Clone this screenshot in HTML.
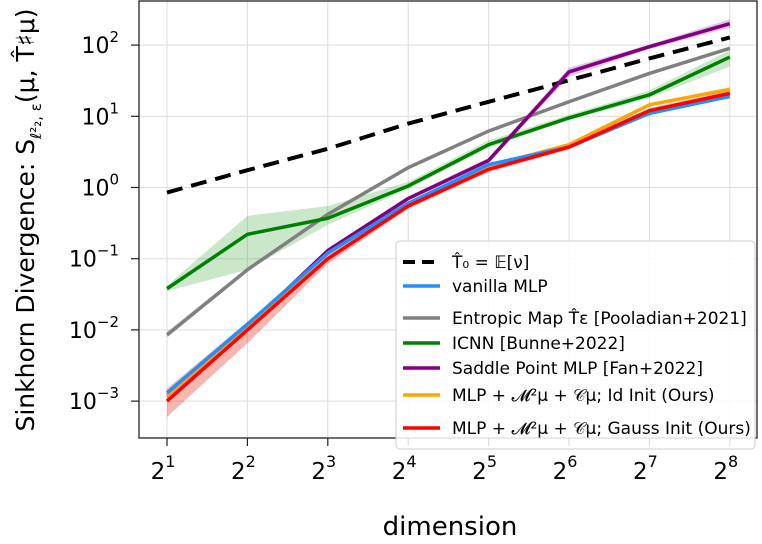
<!DOCTYPE html>
<html><head><meta charset="utf-8"><style>
body{margin:0;background:#fff;width:762px;height:540px;overflow:hidden;font-family:"DejaVu Sans","Liberation Sans",sans-serif}
svg text{font-family:"DejaVu Sans","Liberation Sans",sans-serif}
</style></head><body>
<svg id="chart" width="762" height="540" xmlns="http://www.w3.org/2000/svg">
<g id="grid"></g>
<g id="bands"></g>
<g id="lines"></g>
<rect x="139" y="1" width="618" height="437" fill="none" stroke="#222" stroke-width="1.3"/>
<g id="axes"></g>
<text x="450" y="535" font-size="26" text-anchor="middle">dimension</text>
<text transform="translate(34,220) rotate(-90)" font-size="25" text-anchor="middle">Sinkhorn Divergence: S<tspan font-size="15" dy="7">ℓ²₂, ε</tspan><tspan dy="-7">(μ, T̂♯μ)</tspan></text>
<g id="legend"></g>
</svg>
<script>
const exponents=[1,2,3,4,5,6,7,8];
const yTickExp=[-3,-2,-1,0,1,2];
const seriesNames=["baseline","vanilla","entropic","icnn","saddle","idinit","gauss"];
const baseline=[0.85,1.75,3.5,7.9,16,32,65,128];
const vanilla=[0.0013,0.012,0.12,0.6,2.1,3.7,11,19];
const entropic=[0.0085,0.07,0.42,1.9,6.2,16,40,90];
const icnn=[0.038,0.22,0.37,1.05,4,9.5,20,68];
const saddle=[0.0012,0.011,0.13,0.7,2.4,42,95,200];
const idinit=[0.0012,0.011,0.12,0.6,2.0,4.0,14.5,24];
const gauss=[0.001,0.010,0.10,0.55,1.8,3.7,12,21];
const icnnLo=[0.035,0.07,0.3,0.95,3.6,8.8,18,50];
const icnnHi=[0.042,0.4,0.55,1.2,4.6,10.5,23,85];
const gaussLo=[0.0006,0.0065,0.085,0.5,1.65,3.4,11,19];
const gaussHi=[0.0015,0.013,0.115,0.6,1.95,4.0,13,23];
const entLo=[0.0078,0.065,0.4,1.8,5.9,15.5,38,85];
const entHi=[0.0095,0.075,0.45,2.0,6.5,16.5,42,95];
const sadLo=[0.0011,0.010,0.12,0.66,2.2,36,88,175];
const sadHi=[0.0014,0.012,0.14,0.75,2.6,48,102,230];
const legendLabels=["T̂₀ = 𝔼[ν]","vanilla MLP","Entropic Map T̂ε [Pooladian+2021]","ICNN [Bunne+2022]","Saddle Point MLP [Fan+2022]","MLP + 𝓜²μ + 𝒞μ; Id Init (Ours)","MLP + 𝓜²μ + 𝒞μ; Gauss Init (Ours)"];
const NS="http://www.w3.org/2000/svg";
function X(e){return 167+(e-1)*80.4;}
function Y(v){return 187.5-Math.log10(v)*71.2;}
function mk(t,a,p){const el=document.createElementNS(NS,t);for(const k in a)el.setAttribute(k,a[k]);p.appendChild(el);return el;}
const grid=document.getElementById('grid'),axes=document.getElementById('axes');
exponents.forEach(e=>{
 const l=mk('line',{x1:X(e),x2:X(e),y1:1,y2:438,stroke:'#ddd','stroke-width':1},grid);
 
 
 const t=mk('line',{x1:X(e),x2:X(e),y1:438,y2:446,stroke:'#222','stroke-width':1.2},axes);
 
 
 const tx=mk('text',{x:X(e)-4,y:479,'font-size':23,'text-anchor':'middle'},axes);
 
 
 tx.innerHTML='2<tspan font-size="16" dy="-12">'+e+'</tspan>';
});
yTickExp.forEach(e=>{
 const y=Y(Math.pow(10,e));
 const l=mk('line',{x1:139,x2:757,y1:y,y2:y,stroke:'#ddd','stroke-width':1},grid);
 
 
 const t=mk('line',{x1:131,x2:139,y1:y,y2:y,stroke:'#222','stroke-width':1.2},axes);
 
 
 const tx=mk('text',{x:119,y:y+8,'font-size':22,'text-anchor':'end'},axes);
 
 
 tx.innerHTML='10<tspan font-size="15" dy="-11">'+(e<0?'−'+(-e):e)+'</tspan>';
});
function band(lo,hi,color,op,name){
 let d='M'+exponents.map((e,i)=>X(e)+','+Y(hi[i])).join('L')+'L'+exponents.slice().reverse().map((e,j)=>{const i=exponents.length-1-j;return X(e)+','+Y(lo[i]);}).join('L')+'Z';
 const p=mk('path',{d:d,fill:color,'fill-opacity':op},document.getElementById('bands'));
 
 
}
band(icnnLo,icnnHi,'#2ca02c',0.25,'icnn-band');
band(gaussLo,gaussHi,'#e8321e',0.35,'gauss-band');
band(entLo,entHi,'#888',0.3,'entropic-band');
band(sadLo,sadHi,'#9b3c9b',0.3,'saddle-band');
const styles=[[baseline,'#000',4,'16,9','baseline-line'],[entropic,'#808080',3.5,null,'entropic-line'],[icnn,'#008000',3.5,null,'icnn-line'],[saddle,'#800080',3.5,null,'saddle-line'],[idinit,'#ffa500',3.5,null,'idinit-line'],[vanilla,'#1e90ff',3.5,null,'vanilla-line'],[gauss,'#ff0000',3.5,null,'gauss-line']];
const lines=document.getElementById('lines');
styles.forEach(s=>{
 const a={points:exponents.map((e,i)=>X(e)+','+Y(s[0][i])).join(' '),fill:'none',stroke:s[1],'stroke-width':s[2],'stroke-linejoin':'round'};
 if(s[3])a['stroke-dasharray']=s[3];
 const p=mk('polyline',a,lines);
 
 
});
const lg=document.getElementById('legend');
const bx=mk('rect',{x:396,y:241,width:359,height:208,rx:4,fill:'#fff','fill-opacity':0.85,stroke:'#ccc'},lg);


const legColors=['#000','#1e90ff','#808080','#008000','#800080','#ffa500','#ff0000'];
const legY=[262,286,318,343,368,395,428];
legendLabels.forEach((t,i)=>{
 const a={x1:403,x2:440,y1:legY[i],y2:legY[i],stroke:legColors[i],'stroke-width':i==0?4:3.5};
 if(i==0)a['stroke-dasharray']='12,7';
 const l=mk('line',a,lg);
 
 
 const tx=mk('text',{x:452,y:legY[i]+6,'font-size':17},lg);
 
 
 tx.textContent=t;
});
</script>
</body></html>
